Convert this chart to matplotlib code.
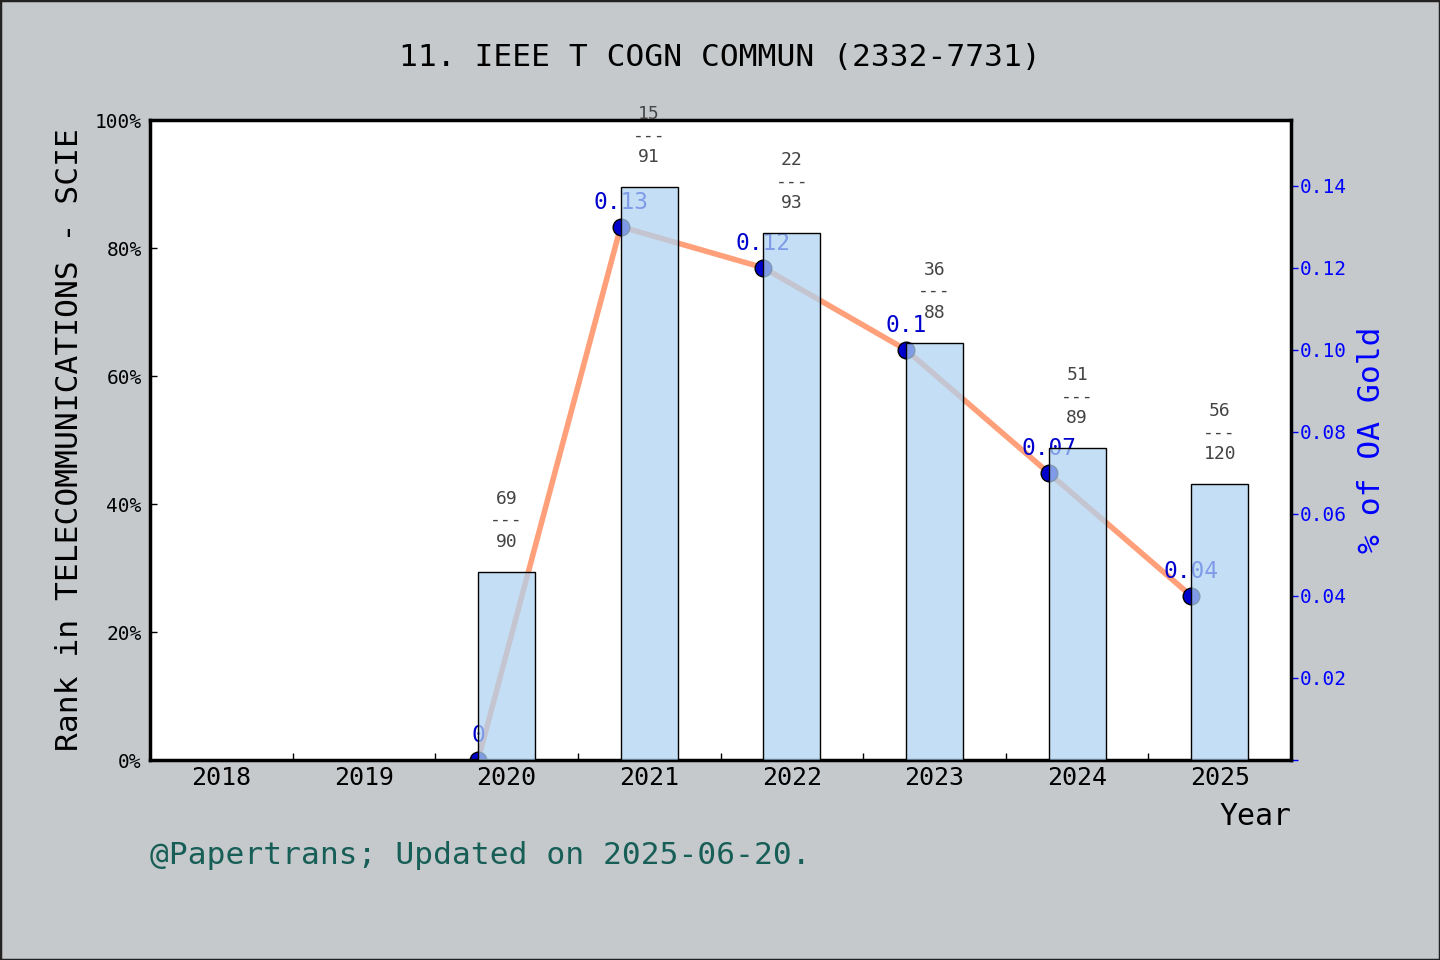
import matplotlib
matplotlib.use("Agg")
import matplotlib.pyplot as plt
import numpy as np
from matplotlib.patches import Rectangle

years = ["2018", "2019", "2020", "2021", "2022", "2023", "2024", "2025"]
rank_pct = [None, None, 0.294, 0.895, 0.823, 0.652, 0.4875, 0.431]
rank_num = [None, None, 69, 15, 22, 36, 51, 56]
rank_total = [None, None, 90, 91, 93, 88, 89, 120]
oa_gold = [None, None, 0.0, 0.13, 0.12, 0.10, 0.07, 0.04]
oa_labels = [None, None, "0", "0.13", "0.12", "0.1", "0.07", "0.04"]

FONT = "DejaVu Sans Mono"
plt.rcParams["font.family"] = [FONT, "DejaVu Sans"]

fig = plt.figure(figsize=(14.4, 9.6), dpi=100)
fig.patch.set_facecolor("#C5C9CC")
fig.patches.append(Rectangle((0, 0), 1, 1, transform=fig.transFigure,
                             fill=False, edgecolor="#222222", linewidth=2.5))

ax = fig.add_axes([150/1440, 200/960, 1141/1440, 640/960])
ax2 = ax.twinx()
ax.set_zorder(2)
ax2.set_zorder(1)
ax.patch.set_visible(False)
ax2.patch.set_visible(True)
ax2.patch.set_facecolor("white")

x = np.arange(len(years))
bar_idx = [i for i, v in enumerate(rank_pct) if v is not None]
ax.bar([x[i] for i in bar_idx], [rank_pct[i] for i in bar_idx], width=0.4,
       facecolor=(175/255, 212/255, 242/255, 0.73), edgecolor="black",
       linewidth=1.0, zorder=3)

for i in bar_idx:
    ax.text(x[i], rank_pct[i] + 0.033, f"{rank_num[i]}\n---\n{rank_total[i]}",
            ha="center", va="bottom", fontsize=13, color="#444444",
            linespacing=1.25, zorder=4)

line_idx = [i for i, v in enumerate(oa_gold) if v is not None]
lx = [x[i] - 0.2 for i in line_idx]
ly = [oa_gold[i] for i in line_idx]
ax2.plot(lx, ly, color="#FFA07A", linewidth=4, zorder=2)
ax2.plot(lx, ly, linestyle="none", marker="o", markersize=12,
         markerfacecolor="#0000CD", markeredgecolor="black", markeredgewidth=1, zorder=3)
for i, xx, yy in zip(line_idx, lx, ly):
    ax2.annotate(oa_labels[i], (xx, yy), xytext=(0, 9), textcoords="offset points",
                 ha="center", va="bottom", fontsize=16.5, color="#0000CD", zorder=4)

ax.set_xlim(-0.5, 7.5)
ax.set_ylim(0, 1)
ax2.set_ylim(0, 0.156)

ax.set_xticks(x)
ax.set_xticklabels(years, fontsize=18)
ax.tick_params(axis="x", which="major", length=0, pad=4)
ax.set_xticks(np.arange(0.5, 7, 1), minor=True)
ax.tick_params(axis="x", which="minor", direction="in", length=5, width=1)

ax.set_yticks([0, 0.2, 0.4, 0.6, 0.8, 1.0])
ax.set_yticklabels(["0%", "20%", "40%", "60%", "80%", "100%"], fontsize=14)
ax.tick_params(axis="y", direction="in", length=5, width=1, pad=6)

ax2.set_yticks([0, 0.02, 0.04, 0.06, 0.08, 0.10, 0.12, 0.14])
ax2.set_yticklabels(["", "0.02", "0.04", "0.06", "0.08", "0.10", "0.12", "0.14"],
                    fontsize=14, color="#0000FF")
ax2.tick_params(axis="y", direction="out", length=5, width=1, colors="#0000FF", pad=1)

for sp in ax.spines.values():
    sp.set_linewidth(2.5)
for sp in ax2.spines.values():
    sp.set_visible(False)

ax.set_ylabel("Rank in TELECOMMUNICATIONS - SCIE", fontsize=22.5, labelpad=8)
ax2.set_ylabel("% of OA Gold", fontsize=22.5, color="#0000FF", labelpad=8)
ax.set_xlabel("Year", fontsize=21.5, loc="right", labelpad=9)

fig.text(0.5, 1 - 57/960, "11. IEEE T COGN COMMUN (2332-7731)", ha="center", va="center",
         fontsize=22.5, color="black")
fig.text(150/1440, 1 - 855/960, "@Papertrans; Updated on 2025-06-20.", ha="left", va="center",
         fontsize=22.5, color="#175E57")

fig.savefig("out.png", dpi=100, facecolor=fig.get_facecolor())
